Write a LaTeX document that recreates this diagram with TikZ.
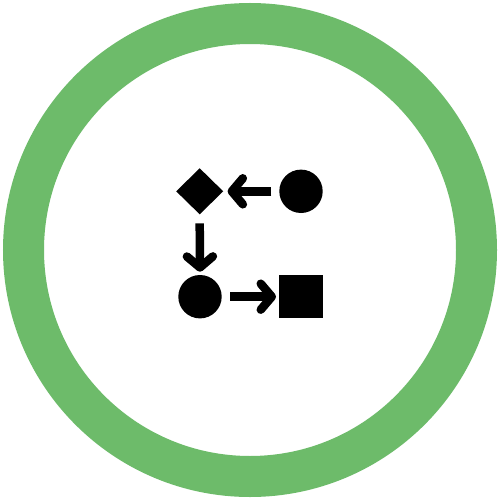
\documentclass[tikz,border=0pt]{standalone}
\usetikzlibrary{shapes.geometric,arrows.meta}
\definecolor{ringgreen}{RGB}{109,187,106}
\tikzset{
  shapebox/.style={fill=black,draw=none,inner sep=0pt,outer sep=0pt},
  flow/.style={line width=8.5pt,-{Straight Barb[round,length=11pt,width=26pt]}}
}
\begin{document}
\begin{tikzpicture}[x=1pt,y=-1pt]
\useasboundingbox (0,0) rectangle (500,500);
\fill[white] (0,0) rectangle (500,500);
\draw[ringgreen,line width=41pt] (250,250) circle (226.5pt);
\node[shapebox,diamond,minimum width=47pt,minimum height=46pt] (d) at (199.7,191.3) {};
\node[shapebox,circle,minimum size=43.4pt] (c1) at (301,191.3) {};
\node[shapebox,circle,minimum size=43.4pt] (c2) at (200,296.7) {};
\node[shapebox,rectangle,minimum width=44pt,minimum height=43pt] (s) at (301.3,296.7) {};
\draw[flow] ([xshift=-8pt]c1.west) -- ([xshift=4.4pt]d.east);
\draw[flow] ([yshift=-9pt]d.south) -- ([yshift=3.3pt]c2.north);
\draw[flow] ([xshift=8.3pt]c2.east) -- ([xshift=-3.3pt]s.west);
\end{tikzpicture}
\end{document}
